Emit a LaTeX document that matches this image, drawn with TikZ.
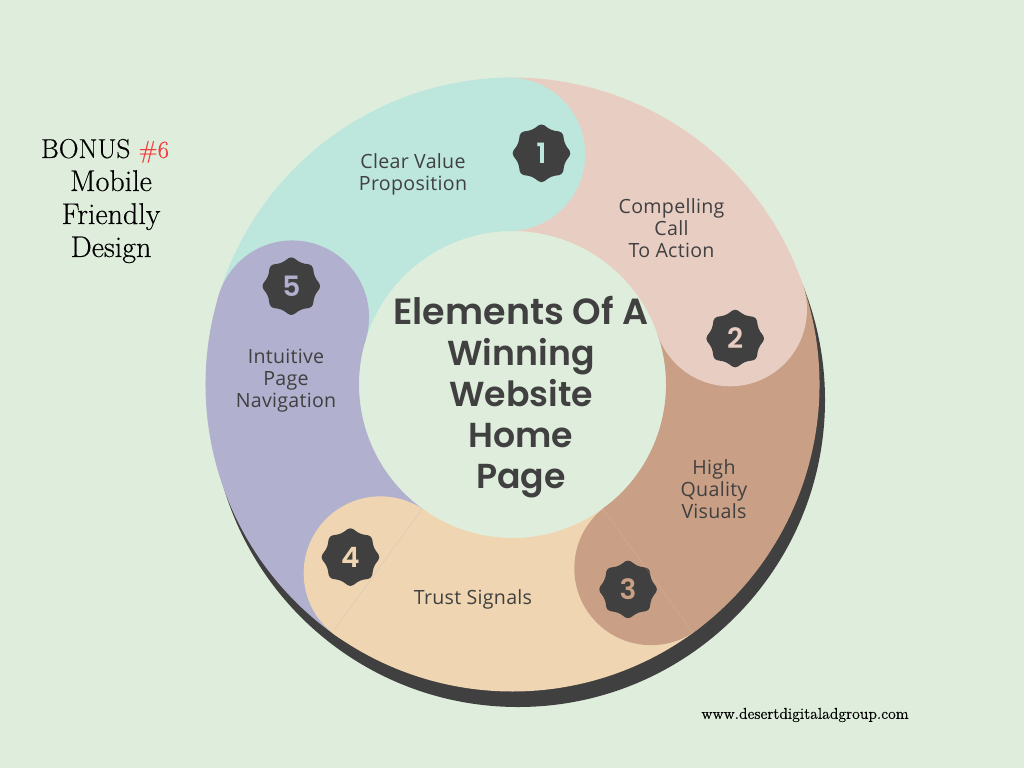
\documentclass[tikz,border=0pt]{standalone}
\usepackage{fontspec}
\setmainfont{Latin Modern Roman}
\newfontfamily\labelfont[LetterSpace=1.5]{Open Sans}
\newfontfamily\titlefont{Poppins}[BoldFont={Poppins SemiBold}]
\newfontfamily\numfont{Poppins}[BoldFont={Poppins SemiBold}]
\newfontfamily\sidefont[FakeBold=0.35]{Latin Modern Roman}
\definecolor{bgc}{HTML}{DFEEDC}
\definecolor{tealc}{HTML}{BDE6DD}
\definecolor{pinkc}{HTML}{E8CDC2}
\definecolor{brownc}{HTML}{C9A086}
\definecolor{tanc}{HTML}{EFD5B1}
\definecolor{purplec}{HTML}{B1B0CE}
\definecolor{darkc}{HTML}{404040}
\tikzset{
  lab/.style={font=\labelfont\fontsize{14.7}{16.5}\selectfont, text=darkc, align=center, inner sep=0pt},
  ttl/.style={font=\titlefont\bfseries\fontsize{26}{30.75}\selectfont, text=darkc, align=center, inner sep=0pt},
  side/.style={font=\sidefont\fontsize{22.5}{24.75}\selectfont, text=black, align=center, inner sep=0pt},
  num/.style={font=\numfont\bfseries\fontsize{21}{24}\selectfont, inner sep=0pt},
}
\newcommand{\segm}[3]{\fill[#1] (#2:307) arc[start angle=#2,end angle=#3,radius=307] -- (#3:153.5) arc[start angle=#3,end angle=#2,radius=153.5] -- cycle;}
\newcommand{\badge}[4]{%
  \fill[#2] (#3:230.25) circle[radius=76.75];
  \begin{scope}[shift={(#3:230.25)},shift={(#4)}]
  \fill[darkc,rounded corners=2.6] (0:30)
    \foreach \a in {22.5,45,...,337.5} { -- ({\a}:{ifthenelse(mod(round(\a/22.5),2)==1,25,30)})} -- cycle;
  \node[num,text=#2] (#1) at (0,0) {#1};
  \end{scope}}
\begin{document}
\begin{tikzpicture}[x=0.75pt,y=-0.75pt]
\useasboundingbox (0,0) rectangle (1024,768);
\fill[bgc] (0,0) rectangle (1024,768);
\fill[darkc] (518,400) circle[radius=307];
\begin{scope}[shift={(512.5,384.5)}]
\fill[bgc] (0,0) circle[radius=154];
\segm{tealc}{197}{269}
\segm{pinkc}{269}{341}
\segm{brownc}{341}{414}
\segm{tanc}{54}{126}
\segm{purplec}{126}{197}
\badge{1}{tealc}{269}{33,-1}
\badge{2}{pinkc}{341}{5,29}
\badge{3}{brownc}{53}{-23,21}
\badge{4}{tanc}{125}{-30,-16}
\badge{5}{purplec}{197}{-1,-31}
\draw[purplec,line width=0.2pt,opacity=.5] (126:153.5) -- (126:303);
\draw[tanc,line width=0.2pt,opacity=.35] (54:153.5) -- (54:307);
\end{scope}
\node[lab] (n1) at (413,174) {Clear Value\\Proposition};
\node[lab] (n2) at (671.5,228) {Compelling\\Call\\To Action};
\node[lab] (n3) at (714,489) {High\\Quality\\Visuals};
\node[lab] (n4) at (473,599) {Trust Signals};
\node[lab] (n5) at (286,381) {Intuitive\\Page\\Navigation};
\node[ttl] (title) at (521,397) {{\fontsize{27.3}{30.75}\selectfont Elements Of A}\\Winning\\Website\\Home\\Page};
\node[side] (bonus) at (111,201) {{\fontsize{20.5}{24.75}\selectfont BONUS {\color[HTML]{F53A3A}\fontsize{18.5}{24.75}\selectfont\#6}}\hspace*{9pt}\\Mobile\\Friendly\\Design};
\node[font=\sidefont\fontsize{11.8}{12}\selectfont,inner sep=0pt] (web) at (805,715) {www.desertdigitaladgroup.com};
\end{tikzpicture}
\end{document}
